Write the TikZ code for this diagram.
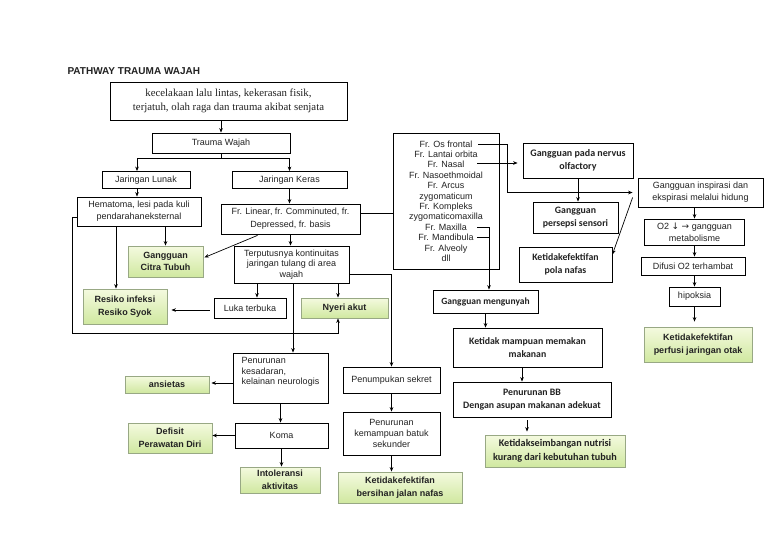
\documentclass[tikz,border=0pt]{standalone}
\usepackage{fontspec}
\setmainfont{Liberation Sans}
\newfontfamily\calfont{Carlito}
\newfontfamily\timesfont{Liberation Serif}
\newfontfamily\symfont{DejaVu Sans}
\usetikzlibrary{arrows.meta,calc,shadows}

\definecolor{gtop}{HTML}{F4FADF}
\definecolor{gbot}{HTML}{D0E8A0}
\definecolor{gline}{HTML}{98A884}
\definecolor{ink}{HTML}{222222}

\tikzset{
  box/.style={draw=black, line width=0.8pt, inner sep=1pt, align=center, text=ink, font=\fontsize{9}{10.4}\selectfont},
  calbox/.style={box, font=\calfont\bfseries\fontsize{9.8}{13}\selectfont},
  greenbox/.style={box, draw=gline, top color=gtop, bottom color=gbot, font=\bfseries\fontsize{9}{12.5}\selectfont,
    drop shadow={shadow xshift=1.2pt, shadow yshift=-1.2pt, opacity=.3}},
  arr/.style={-{Stealth[length=4.5pt,width=3.6pt]}, line width=0.7pt},
  ln/.style={line width=0.7pt}
}

\begin{document}
\begin{tikzpicture}[yscale=-1, x=1pt, y=1pt]

  \fill[white] (0,0) rectangle (768,543);
  \useasboundingbox (0,0) rectangle (768,543);

  \node[anchor=west, text=ink, font=\bfseries\fontsize{10}{12}\selectfont] (title) at (64,71) {PATHWAY TRAUMA WAJAH};

  % left part
  \node[box, font=\timesfont\fontsize{10.8}{14}\selectfont, minimum width=237pt, minimum height=38pt] (src) at (228.5,101) {kecelakaan lalu lintas, kekerasan fisik,\\terjatuh, olah raga dan trauma akibat senjata};
  \node[box, minimum width=138pt, minimum height=20pt] (tw) at (221,143) {Trauma Wajah};
  \node[box, minimum width=88pt, minimum height=17pt] (jl) at (146,180) {Jaringan Lunak};
  \node[box, minimum width=115pt, minimum height=17pt] (jk) at (289.5,180) {Jaringan Keras};
  \node[box, font=\fontsize{9}{12}\selectfont, minimum width=124pt, minimum height=29pt] (hem) at (139,211.5) {Hematoma, lesi pada kuli\\pendarahaneksternal};
  \node[box, font=\fontsize{9}{13}\selectfont, minimum width=139pt, minimum height=30pt] (frl) at (290.5,219) {Fr. Linear, fr. Comminuted, fr.\\Depressed, fr. basis};
  \node[greenbox, minimum width=75pt, minimum height=31pt] (cit) at (165.5,261.5) {Gangguan\\Citra Tubuh};
  \node[box, minimum width=115pt, minimum height=37pt] (ter) at (291.5,264.5) {Terputusnya kontinuitas\\jaringan tulang di area\\wajah};
  \node[greenbox, minimum width=84pt, minimum height=35pt] (res) at (125,306.5) {Resiko infeksi\\Resiko Syok};
  \node[box, minimum width=72pt, minimum height=20pt] (luka) at (250,308) {Luka terbuka};
  \node[greenbox, minimum width=87pt, minimum height=20pt] (nyeri) at (344.5,308) {Nyeri akut};
  \node[box, align=left, minimum width=95pt, minimum height=50pt] (kes) at (280.5,378) {Penurunan\\kesadaran,\\kelainan neurologis\\\strut};
  \node[greenbox, minimum width=84pt, minimum height=17pt] (ans) at (167,384.5) {ansietas};
  \node[box, minimum width=93pt, minimum height=25pt] (koma) at (281.5,435.5) {Koma};
  \node[greenbox, minimum width=84pt, minimum height=30pt] (def) at (170,438) {Defisit\\Perawatan Diri};
  \node[greenbox, minimum width=80pt, minimum height=26pt] (into) at (280,480) {Intoleransi\\aktivitas};
  \node[box, minimum width=97pt, minimum height=26pt] (sek) at (391.5,380) {Penumpukan sekret};
  \node[box, font=\fontsize{9}{11}\selectfont, minimum width=97pt, minimum height=43pt] (bat) at (391.5,433.5) {Penurunan\\kemampuan batuk\\sekunder};
  \node[greenbox, minimum width=124pt, minimum height=31pt] (ber) at (400,487.5) {Ketidakefektifan\\bersihan jalan nafas};

  % fraktur list and right part
  \node[box, minimum width=106pt, minimum height=136pt] (frx) at (446,201) {Fr. Os frontal\\Fr. Lantai orbita\\Fr. Nasal\\Fr. Nasoethmoidal\\Fr. Arcus\\zygomaticum\\Fr. Kompleks\\zygomaticomaxilla\\Fr. Maxilla\\Fr. Mandibula\\Fr. Alveoly\\dll};
  \node[calbox, font=\calfont\bfseries\fontsize{10}{13.5}\selectfont, minimum width=110pt, minimum height=35pt] (olf) at (578,160.5) {Gangguan pada nervus\\olfactory};
  \node[calbox, minimum width=85pt, minimum height=31pt] (per) at (575.5,217.5) {Gangguan\\persepsi sensori};
  \node[calbox, minimum width=93pt, minimum height=35pt] (pola) at (565.5,264.5) {Ketidakefektifan\\pola nafas};
  \node[calbox, font=\calfont\bfseries\fontsize{9.5}{13}\selectfont, minimum width=105pt, minimum height=23pt] (mng) at (485.5,301.5) {Gangguan mengunyah};
  \node[calbox, minimum width=149pt, minimum height=39pt] (mak) at (527.5,347.5) {Ketidak mampuan memakan\\makanan};
  \node[calbox, minimum width=158pt, minimum height=35pt] (bb) at (532,399.5) {Penurunan BB\\Dengan asupan makanan adekuat};
  \node[greenbox, font=\calfont\bfseries\fontsize{10.2}{13.5}\selectfont, minimum width=140pt, minimum height=32pt] (nut) at (555,451) {Ketidakseimbangan nutrisi\\kurang dari kebutuhan tubuh};
  \node[box, font=\fontsize{9}{12}\selectfont, minimum width=125pt, minimum height=29pt] (ins) at (700.5,192.5) {Gangguan inspirasi dan\\ekspirasi melalui hidung};
  \node[box, font=\fontsize{9}{12}\selectfont, minimum width=100pt, minimum height=26pt] (o2) at (694.5,232) {O2 {\symfont ↓} {\symfont →} gangguan\\metabolisme};
  \node[box, minimum width=104pt, minimum height=18pt] (dif) at (693,266) {Difusi O2 terhambat};
  \node[box, minimum width=51pt, minimum height=19pt] (hip) at (694.5,296.5) {hipoksia};
  \node[greenbox, minimum width=108pt, minimum height=35pt] (perf) at (698,344.5) {Ketidakefektifan\\perfusi jaringan otak};

  % connectors left
  \draw[arr] (src.south -| tw.north) -- (tw.north);
  \draw[ln] (tw.south) -- ++(0,5) coordinate (tb);
  \draw[arr] (tb) -| ($(jl.north)+(-9,0)$);
  \draw[arr] (tb) -| (jk.north);
  \draw[arr] (jl.south) ++(-9,0) coordinate (c1) -- (c1 |- hem.north);
  \draw[arr] (jk.south) -- (jk.south |- frl.north);
  \draw[ln] (frl.east) ++(0,-6) coordinate (c2) -- (c2 -| frx.west);
  \draw[arr] (frl.south) ++(-33,1) -- ($(cit.east)+(1,-4)$);
  \draw[arr] (frl.south) -- (frl.south |- ter.north);
  \draw[arr] (cit.north |- hem.south) -- (cit.north);
  \draw[arr] (res.north) ++(-9,0) coordinate (c3) (c3 |- hem.south) -- (c3);
  \draw[arr] (hem.west) ++(0,5.5) -- ++(-4,0) -- ++(0,116) -| ($(nyeri.south)+(-6.5,0)$);
  \draw[arr] (luka.north) ++(7,0) coordinate (c4) (c4 |- ter.south) -- (c4);
  \draw[arr] (nyeri.north) ++(-6.5,0) coordinate (c5) (c5 |- ter.south) -- (c5);
  \path (luka.west) ++(0,2) coordinate (c6);
  \draw[arr, shorten <=4pt, shorten >=4pt] (c6) -- (c6 -| res.east);
  \draw[arr] (ter.south) ++(1.5,0) coordinate (c7) -- (c7 |- kes.north);
  \draw[arr] (ter.east) ++(0,9.5) -| (sek.north);
  \draw[arr, shorten >=2pt] (kes.west) ++(0,5) coordinate (c8) -- (c8 -| ans.east);
  \draw[arr] (kes.south) -- (kes.south |- koma.north);
  \draw[arr] (koma.west) -- (koma.west -| def.east);
  \draw[arr] (koma.south) -- (koma.south |- into.north);
  \draw[arr] (sek.south) -- (bat.north);
  \draw[arr] (bat.south) -- (bat.south |- ber.north);

  % connectors right
  \draw[arr, shorten >=5pt] (frx.center) ++(32,-57) -- ++(29,0) |- (ins.west);
  \draw[arr, shorten >=5pt] (frx.center) ++(31,-38) coordinate (c9) -- (c9 -| olf.west);
  \draw[arr] (olf.south) -- (olf.south |- per.north);
  \draw[arr] (ins.west) ++(-5,5) -- ($(pola.east)+(0,-10)$);
  \draw[arr] (frx.center) ++(31,26) -- ++(12,0) coordinate (c10) -- (c10 |- mng.north);
  \draw[ln] (frx.center) ++(31,36) -- ++(12,0);
  \draw[arr] (mng.south) -- (mng.south |- mak.north);
  \draw[arr] (mak.south) ++(-5.5,0) coordinate (c11) -- (c11 |- bb.north);
  \path (bb.south) ++(-5,0) coordinate (c12);
  \draw[arr, shorten <=3pt, shorten >=3pt] (c12) -- (c12 |- nut.north);
  \draw[arr] (o2.north |- ins.south) -- (o2.north);
  \draw[arr] (o2.south) -- (o2.south |- dif.north);
  \draw[arr] (hip.north |- dif.south) -- (hip.north);
  \path (hip.south) coordinate (c13);
  \draw[arr, shorten >=5pt] (c13) -- (c13 |- perf.north);

\end{tikzpicture}
\end{document}
